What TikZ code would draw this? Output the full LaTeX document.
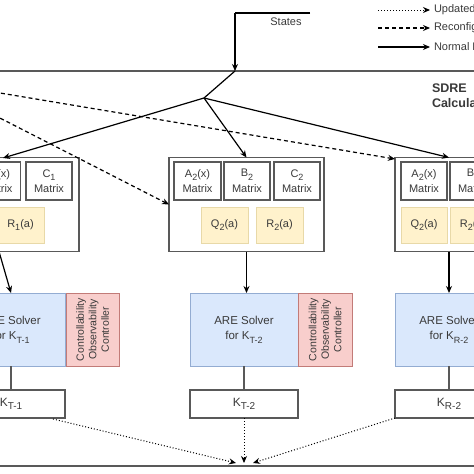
\documentclass[tikz,border=0pt]{standalone}
\usepackage{fontspec}
\setmainfont{Liberation Sans}
\usetikzlibrary{arrows.meta}
\definecolor{tx}{HTML}{3A3A3A}
\definecolor{bd}{HTML}{595959}
\definecolor{bluef}{HTML}{DAE8FC}
\definecolor{blued}{HTML}{93ACD2}
\definecolor{redf}{HTML}{F8CECC}
\definecolor{redd}{HTML}{C27B78}
\definecolor{ylwf}{HTML}{FFF2CC}
\definecolor{ylwd}{HTML}{E8D9A8}
\newcommand{\lo}[1]{\raisebox{-0.28em}{\fontsize{9}{9}\selectfont #1}}
\newcommand{\klo}[1]{\raisebox{-0.28em}{\fontsize{10}{10}\selectfont #1}}
\tikzset{
  base/.style={inner sep=0pt, outer sep=0pt, align=center, text=tx, font=\fontsize{11}{15.5}\selectfont},
  mat/.style={base, draw=bd, line width=1.2pt, fill=white, minimum width=46pt, minimum height=38pt},
  ylw/.style={base, draw=ylwd, fill=ylwf, line width=0.8pt, minimum width=47pt, minimum height=36pt},
  outerbox/.style={draw=bd, line width=1.3pt, fill=white, minimum width=155pt, minimum height=94pt, inner sep=0pt, outer sep=0pt},
  are/.style={base, draw=blued, fill=bluef, line width=0.8pt, minimum width=108pt, minimum height=73pt, font=\fontsize{11.5}{15.5}\selectfont},
  ctl/.style={base, draw=redd, fill=redf, line width=0.8pt, minimum width=73pt, minimum height=54pt, rotate=90, font=\fontsize{10.5}{12.5}\selectfont},
  kbox/.style={base, draw=bd, line width=1.2pt, fill=white, minimum width=108pt, minimum height=28pt, font=\fontsize{12}{13}\selectfont},
  container/.style={draw=bd, line width=1.3pt, inner sep=0pt, outer sep=0pt},
  flow/.style={line width=1.2pt, -{Stealth[length=7pt,width=6pt]}},
  dashflow/.style={flow, dash pattern=on 4pt off 3pt},
  dotflow/.style={flow, line width=1pt, dash pattern=on 1pt off 2pt},
  lbl/.style={base, font=\fontsize{11}{12}\selectfont, anchor=west}
}
\begin{document}
\begin{tikzpicture}[x=1pt,y=-1pt]
\useasboundingbox (0,0) rectangle (474,474);
\fill[white] (0,0) rectangle (474,474);

% container
\node[container, minimum width=520pt, minimum height=395pt] (cont) at (237,268.5) {};
\node[base, anchor=north west, font=\bfseries\fontsize{12.5}{15}\selectfont, align=left] (sdre) at (432,84) {SDRE\\Calculation};

% legend
\coordinate (l1a) at (378,10); \coordinate (l1b) at (430,10);
\coordinate (l2a) at (378,28); \coordinate (l2b) at (430,28);
\coordinate (l3a) at (378,47); \coordinate (l3b) at (430,47);
\draw[dotflow] (l1a) -- (l1b);
\draw[dashflow] (l2a) -- (l2b);
\draw[flow] (l3a) -- (l3b);
\node[lbl] (t1) at (434,10) {Updated Gains};
\node[lbl] (t2) at (434,28) {Reconfiguration};
\node[lbl] (t3) at (434,47) {Normal Flow};

% states
\coordinate (s1) at (310,13);
\coordinate (s2) at (235,13);
\node[base] (states) at (286,22) {States};

% outer boxes
\node[outerbox, minimum width=160pt] (outL) at (-1,204.5) {};
\node[outerbox] (outM) at (246.5,204.5) {};
\node[outerbox] (outR) at (472.5,204.5) {};

% matrix boxes
\node[mat] (a1) at (-2.5,181) {A\lo{1}(x)\\Matrix};
\node[mat] (c1) at (49,181) {C\lo{1}\\Matrix};
\node[mat, minimum width=47pt] (a2) at (197.5,181) {A\lo{2}(x)\\Matrix};
\node[mat] (b2) at (247,181) {B\lo{2}\\Matrix};
\node[mat] (c2) at (297,181) {C\lo{2}\\Matrix};
\node[mat] (a2r) at (424,181) {A\lo{2}(x)\\Matrix};
\node[mat] (b2r) at (473,181) {B\lo{2}\\Matrix};

% weight boxes
\node[ylw] (r1) at (20.5,225) {R\lo{1}(a)};
\node[ylw] (q2) at (224.5,225) {Q\lo{2}(a)};
\node[ylw] (r2) at (279.5,225) {R\lo{2}(a)};
\node[ylw, minimum width=46pt] (q2r) at (424,225) {Q\lo{2}(a)};
\node[ylw, minimum width=46pt] (r2r) at (473,225) {R\lo{2}(a)};

% ARE solvers
\node[are] (areL) at (11,329.5) {ARE Solver\\for K\lo{T-1}};
\node[are] (areM) at (244,329.5) {ARE Solver\\for K\lo{T-2}};
\node[are] (areR) at (449,329.5) {ARE Solver\\for K\lo{R-2}};
\node[ctl, minimum height=53pt] (ccL) at (92.5,329.5) {Controllability\\Observability\\Controller};
\node[ctl] (ccM) at (325,329.5) {Controllability\\Observability\\Controller};

% gains
\node[kbox] (kL) at (11,404) {K\klo{T-1}};
\node[kbox] (kM) at (244,404) {K\klo{T-2}};
\node[kbox] (kR) at (449,404) {K\klo{R-2}};

% states flow
\draw[line width=1.2pt] (s1) -- (s2);
\draw[flow] (s2) -- (s2 |- cont.north);
\coordinate (br) at (204,98);
\draw[line width=1.2pt] (s2 |- cont.north) -- (br);
\coordinate (eL) at (3,158);
\draw[flow] (br) -- (eL);
\draw[flow] (br) -- (outM.north);
\draw[flow] (br) -- (areR.north |- outR.north);

% reconfiguration (dashed)
\coordinate (d1s) at (-6,92);
\coordinate (d1e) at (395,159);
\draw[dashflow] (d1s) -- (d1e);
\coordinate (d2s) at (-6,115);
\draw[dashflow] (d2s) -- (outM.west);

% down arrows
\draw[flow] (outL.south) -- (areL.north);
\draw[flow] (outM.south) -- (outM.south |- areM.north);
\draw[flow] (areR.north |- outR.south) -- (areR.north);

% ARE to K
\draw[bd, line width=1.2pt] (areL.south) -- (kL.north);
\draw[bd, line width=1.2pt] (areM.south) -- (kM.north);
\draw[bd, line width=1.2pt] (areR.south) -- (kR.north);

% updated gains (dotted)
\coordinate (g1) at (236,463);
\coordinate (g2) at (244,463);
\coordinate (g3) at (253,463);
\coordinate (kLs) at (53,419);
\draw[dotflow] (kLs) -- (g1);
\draw[dotflow] (kM.south) -- (g2);
\draw[dotflow] (kR.south west) -- (g3);
\end{tikzpicture}
\end{document}
